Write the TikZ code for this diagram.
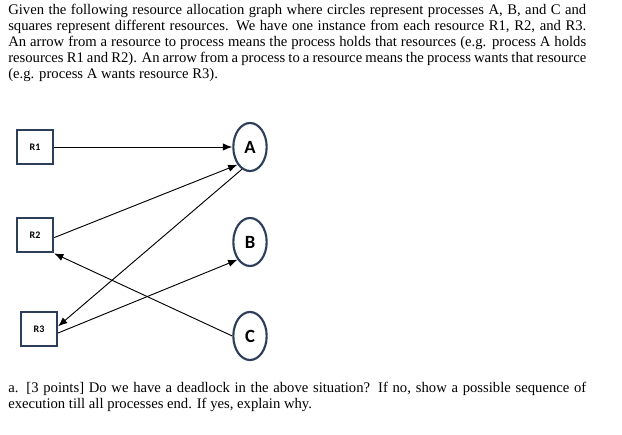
\documentclass[tikz,border=0pt]{standalone}
\usepackage{fontspec}
\setmainfont{Liberation Serif}
\newfontfamily\carlitofont{Carlito}
\usetikzlibrary{arrows.meta,shapes.geometric}
\definecolor{navy}{RGB}{44,62,90}
\begin{document}
\begin{tikzpicture}[x=0.75pt,y=-0.75pt,
  res/.style={draw=navy,line width=1.6pt,minimum width=27pt,minimum height=26pt,inner sep=0pt,font=\carlitofont\bfseries\fontsize{7.5}{8}\selectfont},
  proc/.style={ellipse,draw=navy,line width=1.6pt,minimum width=25pt,minimum height=36pt,inner sep=0pt,font=\carlitofont\bfseries\fontsize{14}{15}\selectfont},
  arr/.style={-{Latex[length=7pt,width=5.5pt]},line width=0.7pt},
  txt/.style={anchor=north west,inner sep=0pt,text width=433.5pt,align=justify,font=\fontsize{11}{12}\selectfont}]
\useasboundingbox (0,0) rectangle (622,435);
\node[txt] (t1) at (8,4) {Given the following resource allocation graph where circles represent processes A, B, and C and squares represent different resources. We have one instance from each resource R1, R2, and R3. An arrow from a resource to process means the process holds that resources (e.g. process A holds resources R1 and R2). An arrow from a process to a resource means the process wants that resource (e.g. process A wants resource R3).};
\node[res] (R1) at (35,147) {R1};
\node[res] (R2) at (35,235) {R2};
\node[res] (R3) at (39,329) {R3};
\node[proc] (A) at (250,147) {A};
\node[proc] (B) at (250,242) {B};
\node[proc] (C) at (250,336) {C};
\draw[arr] (R1.east) -- (A.west);
\draw[arr] ([yshift=-2pt]R2.east) -- (A.south west);
\draw[arr] (A.250) -- ([yshift=2pt]R3.east);
\draw[arr] ([yshift=-3pt]R3.east) -- (B.south west);
\draw[arr] (C.west) -- (R2.south east);
\node[txt] (t2) at (8,382) {a. [3 points] Do we have a deadlock in the above situation? If no, show a possible sequence of execution till all processes end. If yes, explain why.};
\end{tikzpicture}
\end{document}
